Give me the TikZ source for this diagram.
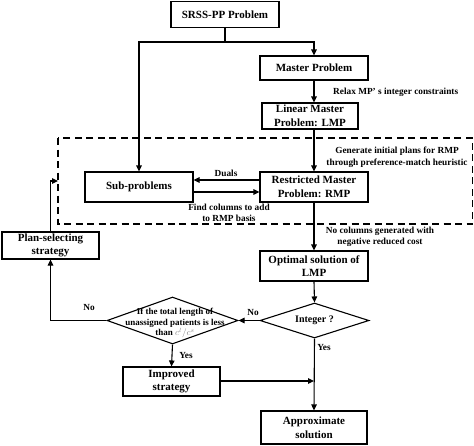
\documentclass[tikz,border=0pt]{standalone}
\usepackage{fontspec}
\setmainfont{Liberation Serif}
\usetikzlibrary{arrows.meta,shapes.geometric}
\begin{document}
\begin{tikzpicture}[x=1pt,y=-1pt,
  box/.style={draw, line width=1.1pt, inner sep=0pt, align=center,
    font=\bfseries\fontsize{11}{13.5}\selectfont},
  dia/.style={draw, line width=1.1pt, diamond, inner sep=0pt},
  lbl/.style={inner sep=0pt, align=center, font=\bfseries\fontsize{9.3}{11.5}\selectfont},
  conn/.style={line width=1.1pt},
  arr/.style={conn, -{Triangle[length=6pt,width=5.5pt]}}]
\useasboundingbox (0,0) rectangle (474,445);
% boxes
\node[box, minimum width=108, minimum height=26] (srss) at (225,14.5) {SRSS-PP Problem};
\node[box, minimum width=108, minimum height=24] (master) at (314,68) {Master Problem};
\node[box, minimum width=96, minimum height=26] (lmp) at (310,116) {Linear Master\\Problem: LMP};
\node[box, minimum width=108, minimum height=30] (sub) at (139,187) {Sub-problems};
\node[box, minimum width=108, minimum height=30] (rmp) at (314,187) {Restricted Master\\Problem: RMP};
\node[box, minimum width=108, minimum height=30] (opt) at (314,266) {Optimal solution of\\LMP};
\node[box, minimum width=97, minimum height=27] (plan) at (50.5,245.5) {Plan-selecting\\strategy};
\node[dia, minimum width=109, minimum height=35] (int) at (314.5,320.5) {};
\node[lbl, font=\bfseries\fontsize{10}{12}\selectfont] (inttext) at (int) {Integer ?};
\node[dia, minimum width=131, minimum height=47] (dec) at (172.5,320.5) {};
\node[lbl, font=\bfseries\fontsize{9}{10.8}\selectfont] (dectext) at (175,323)
  {If the total length of\\unassigned patients is less\\than {\color{gray}$c^l/c^s$}};
\node[box, minimum width=97, minimum height=29] (imp) at (171.5,381.5) {Improved\\strategy};
\node[box, minimum width=106, minimum height=33] (app) at (314,427.5) {Approximate\\solution};
% dashed region
\coordinate (dtl) at (58,138);
\coordinate (dbr) at (472.5,224);
\draw[line width=1.1pt, dash pattern=on 7pt off 4.5pt] (dtl) rectangle (dbr);
\coordinate (dl) at (58,181);
% connectors
\coordinate (j) at (225,42);
\draw[conn] (srss.south) -- (j);
\draw[arr] (j) -| (sub.north);
\draw[arr] (j) -| (master.north);
\draw[arr] (master.south) -- (master.south |- lmp.north);
\draw[arr] (master.south |- lmp.south) -- (rmp.north);
\draw[arr] ([yshift=7pt]rmp.west) -- ([yshift=7pt]sub.east);
\draw[arr] ([yshift=-5pt]sub.east) -- ([yshift=-5pt]rmp.west);
\draw[arr] (rmp.south) -- (opt.north);
\draw[arr] (opt.south) -- (int.north);
\draw[arr] (int.west) -- (dec.east);
\draw[arr] (dec.west) -| (plan.south);
\draw[arr] (plan.north) |- (dl);
\draw[arr] (dec.south) -- (imp.north);
\draw[arr] (int.south) -- (app.north);
\coordinate (m) at (314,381);
\draw[arr] (imp.east |- m) -- (m);
% labels
\node[lbl, anchor=west] (l1) at (333,92) {Relax MP’\ s integer constraints};
\node[lbl] (l2) at (397,157) {Generate initial plans for RMP\\through preference-match heuristic};
\node[lbl] (l3) at (226,173) {Duals};
\node[lbl] (l4) at (229,213) {Find columns to add\\to RMP basis};
\node[lbl] (l5) at (380,237) {No columns generated with\\negative reduced cost};
\node[lbl] (l6) at (253,312) {No};
\node[lbl] (l7) at (89,307) {No};
\node[lbl] (l8) at (186,355) {Yes};
\node[lbl] (l9) at (324,347) {Yes};
\end{tikzpicture}
\end{document}
